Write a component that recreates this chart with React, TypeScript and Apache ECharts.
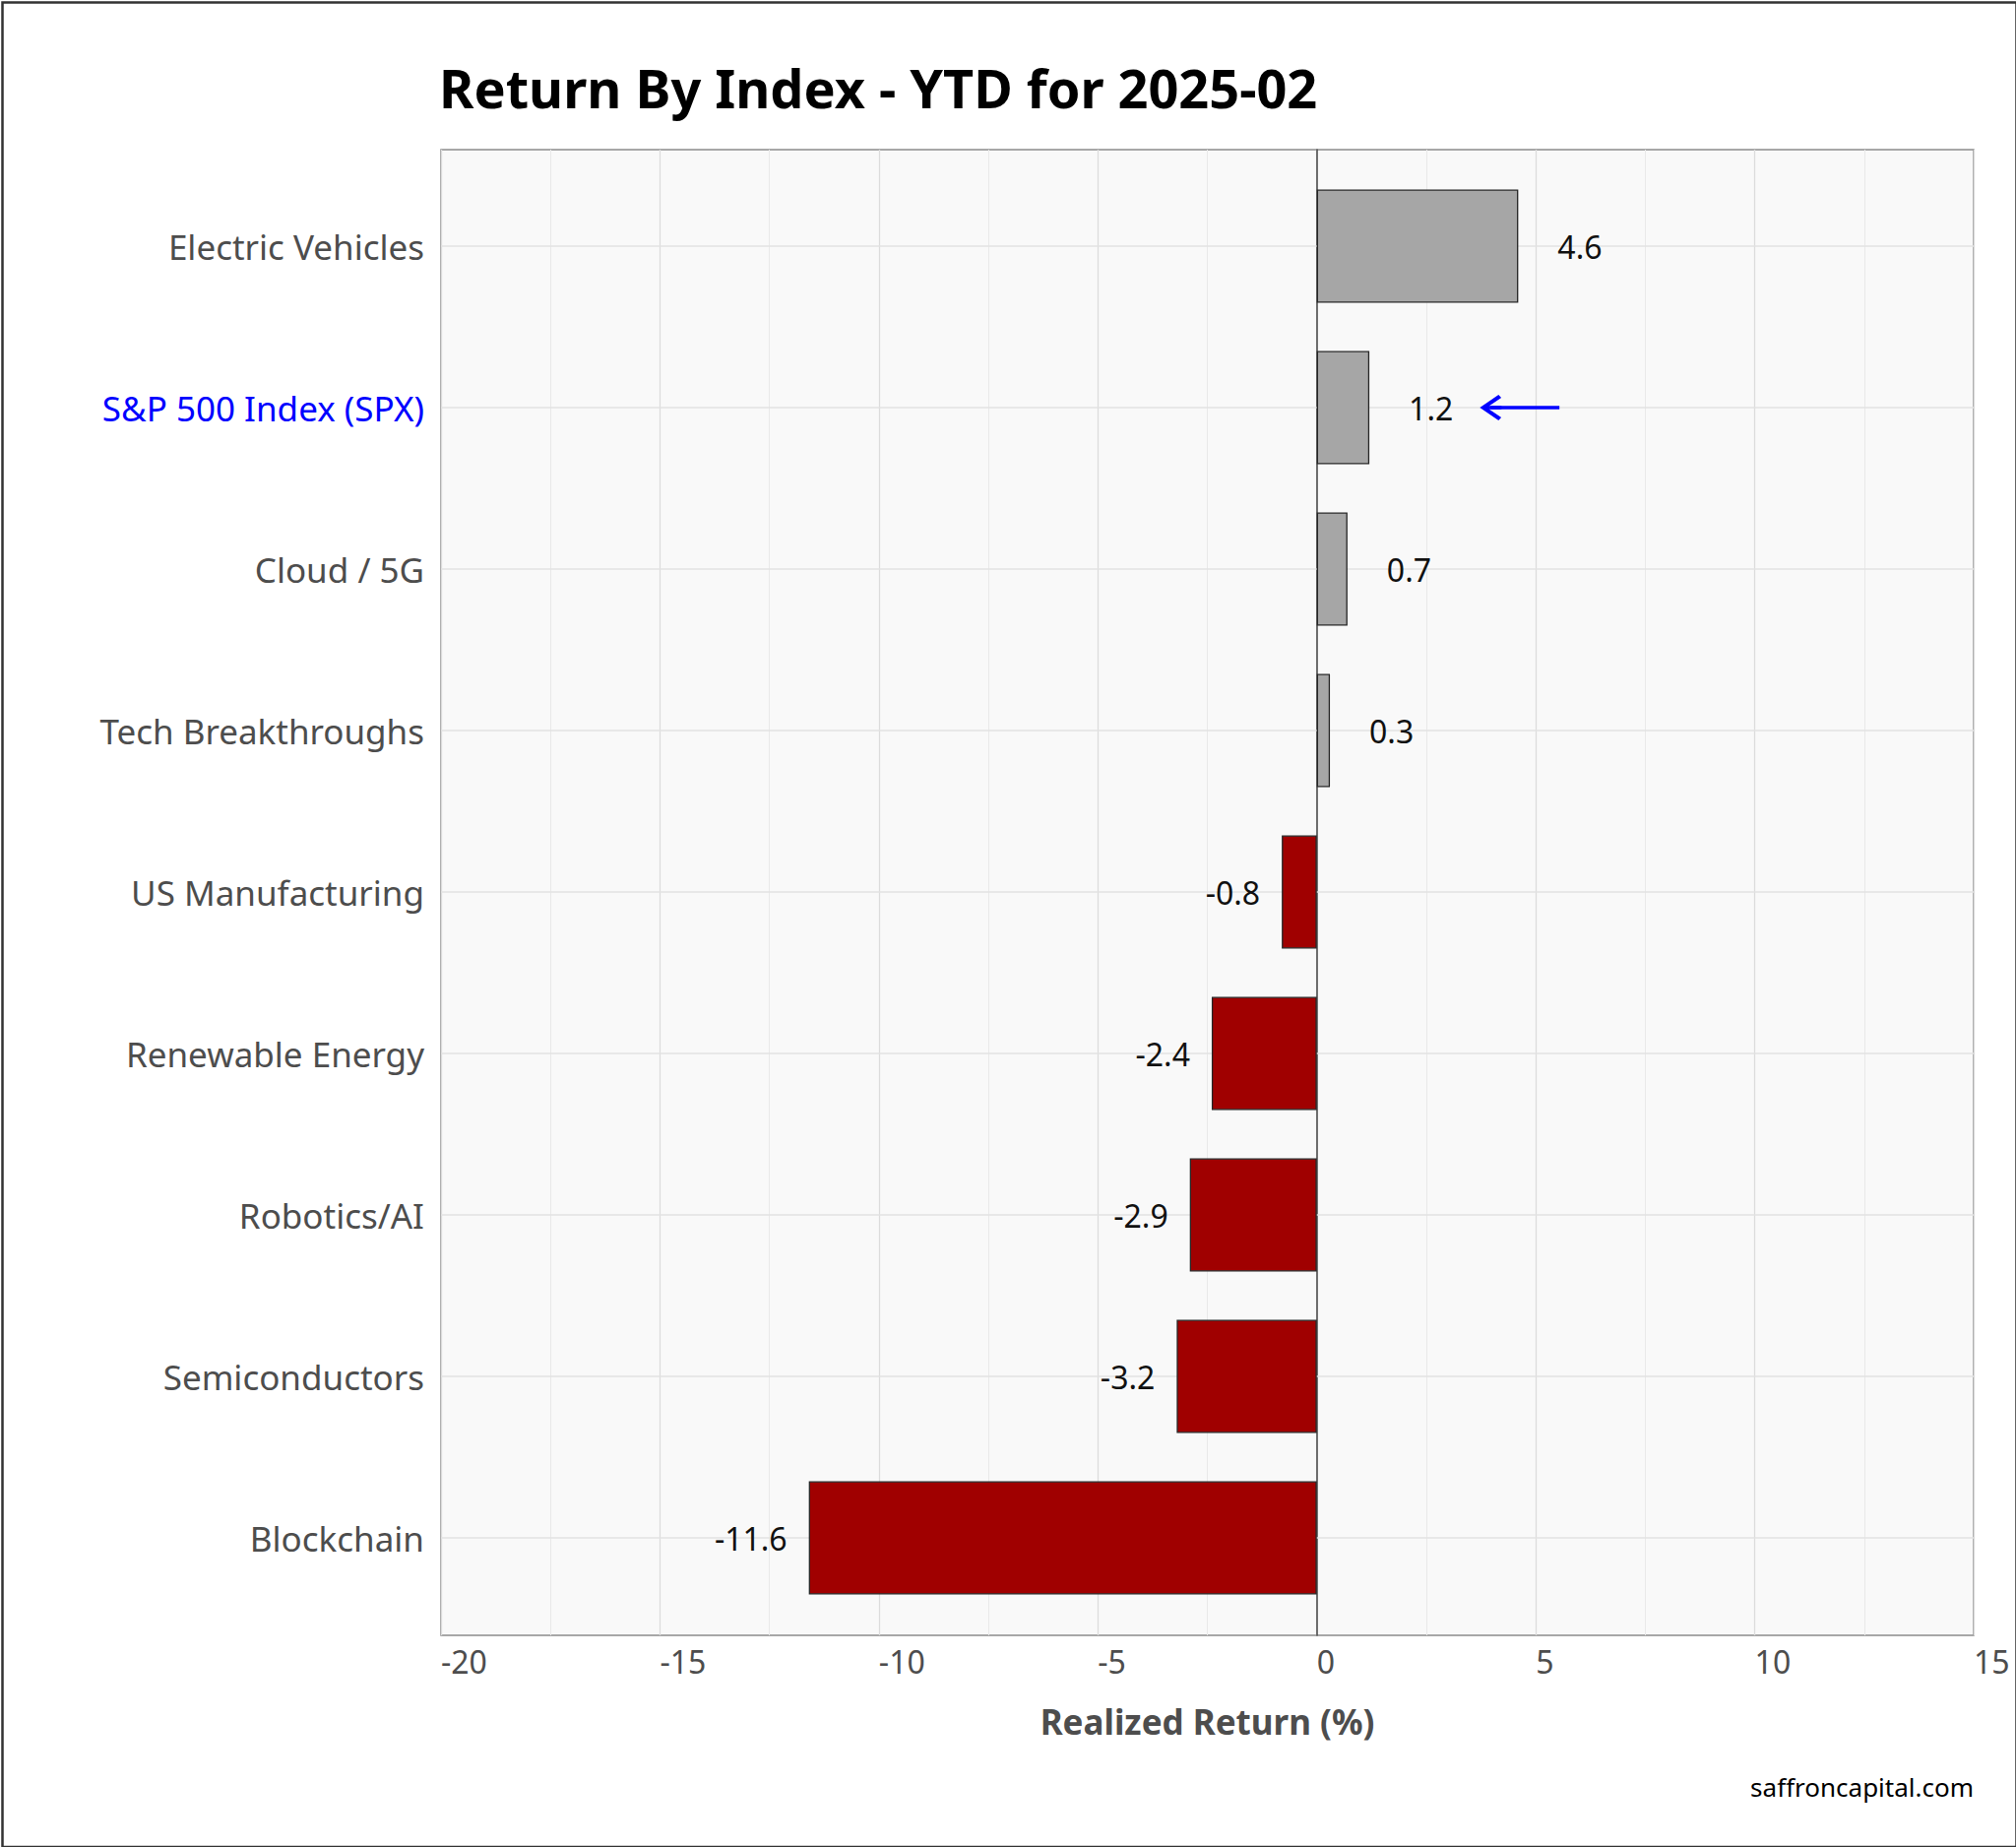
import React, { useEffect, useRef } from "react";
import * as echarts from "echarts";

// Index names, top to bottom, and their year-to-date realized returns (%)
const categories = [
  "Electric Vehicles",
  "S&P 500 Index (SPX)",
  "Cloud / 5G",
  "Tech Breakthroughs",
  "US Manufacturing",
  "Renewable Energy",
  "Robotics/AI",
  "Semiconductors",
  "Blockchain",
];
const returns = [4.6, 1.2, 0.7, 0.3, -0.8, -2.4, -2.9, -3.2, -11.6];

// Return axis range and tick step
const xMin = -20;
const xMax = 15;
const xStep = 5;

// Benchmark row, highlighted in blue with a pointer arrow (x values in %)
const benchmark = "S&P 500 Index (SPX)";
const arrowTail = 5.54;
const arrowHead = 3.97;

const FONT = "Noto Sans";
const POS_COLOR = "#a6a6a6";
const NEG_COLOR = "#a00000";

// Open chevron with a short stem, pointing up; ECharts turns it along the line
const ARROW_SYMBOL =
  "path://M13,0 L26,19 L23,21.8 L13,7 L3,21.8 L0,19 Z M11.2,4 L14.8,4 L14.8,22 L11.2,22 Z";

const PLOT = { left: 448, top: 152, width: 1557, height: 1509 };
const ROW_TOP = 250;
const ROW_BOTTOM = 1562;

function buildOption(): echarts.EChartsOption {
  const barData = returns.map((v) => ({
    value: v,
    itemStyle: { color: v >= 0 ? POS_COLOR : NEG_COLOR },
    label: {
      position: v >= 0 ? "right" : "left",
      distance: v >= 0 ? 40 : 22,
    },
  }));

  const benchmarkIndex = categories.indexOf(benchmark);

  return {
    animation: false,
    backgroundColor: "#ffffff",
    title: {
      text: "Return By Index - YTD for 2025-02",
      left: 446,
      top: 62,
      padding: 0,
      textStyle: {
        fontFamily: FONT,
        fontSize: 54,
        fontWeight: "bold",
        color: "#000000",
      },
    },
    grid: [
      {
        // panel: background, border, vertical grid lines, zero line
        left: PLOT.left,
        top: PLOT.top,
        width: PLOT.width,
        height: PLOT.height,
        show: true,
        backgroundColor: "#f9f9f9",
        borderColor: "#8c8c8c",
        borderWidth: 1.5,
        outerBoundsMode: "none",
      } as any,
      {
        // bars: rows spread between first and last category centres
        left: PLOT.left,
        top: ROW_TOP,
        width: PLOT.width,
        height: ROW_BOTTOM - ROW_TOP,
        show: false,
        outerBoundsMode: "none",
      } as any,
    ],
    xAxis: [
      {
        type: "value",
        gridIndex: 0,
        min: xMin,
        max: xMax,
        interval: xStep,
        axisLine: { show: false },
        axisTick: { show: false },
        axisLabel: {
          fontFamily: FONT,
          fontSize: 32,
          color: "#4d4d4d",
          align: "left",
          margin: 10,
          showMinLabel: true,
          showMaxLabel: true,
        },
        splitLine: { show: true, lineStyle: { color: "#dcdcdc", width: 1.3 } },
        minorTick: { show: false, splitNumber: 2 },
        minorSplitLine: { show: true, lineStyle: { color: "#e9e9e9", width: 1 } },
        name: "Realized Return (%)",
        nameLocation: "middle",
        nameGap: 70,
        nameTextStyle: {
          fontFamily: FONT,
          fontSize: 35,
          fontWeight: "bold",
          color: "#4d4d4d",
        },
      },
      {
        type: "value",
        gridIndex: 1,
        min: xMin,
        max: xMax,
        interval: xStep,
        show: false,
      },
    ],
    yAxis: [
      {
        // carries only the vertical zero line of the panel
        type: "value",
        gridIndex: 0,
        min: 0,
        max: 1,
        axisLine: { show: true, onZero: true, lineStyle: { color: "#444444", width: 1.5 } },
        axisTick: { show: false },
        axisLabel: { show: false },
        splitLine: { show: false },
      },
      {
        type: "category",
        gridIndex: 1,
        data: categories,
        inverse: true,
        boundaryGap: false,
        axisLine: { show: false },
        axisTick: { show: false },
        axisLabel: {
          fontFamily: FONT,
          fontSize: 35,
          margin: 17,
          color: ((value: string) => (value === benchmark ? "#0000ff" : "#4d4d4d")) as any,
        },
        splitLine: { show: true, lineStyle: { color: "#e2e2e2", width: 1.5 } },
        z: 1,
      },
    ],
    series: [
      {
        type: "bar",
        xAxisIndex: 1,
        yAxisIndex: 1,
        data: barData as any,
        barWidth: 115,
        clip: false,
        itemStyle: { borderColor: "#262626", borderWidth: 1.3 },
        label: {
          show: true,
          fontFamily: FONT,
          fontSize: 32,
          color: "#111111",
          formatter: (p: any) => Number(p.value).toFixed(1),
        },
        markLine: {
          silent: true,
          symbol: ["none", ARROW_SYMBOL],
          symbolSize: [10, [26, 22]] as any,
          label: { show: false },
          lineStyle: { color: "#0000ff", width: 3.7, type: "solid", cap: "butt" },
          emphasis: { disabled: true },
          data: [
            [
              { coord: [arrowTail, benchmarkIndex] },
              { coord: [arrowHead, benchmarkIndex], symbol: ARROW_SYMBOL, symbolSize: [26, 22] },
            ] as any,
          ],
        },
      },
    ],
    graphic: [
      {
        type: "text",
        right: 2048 - 2005,
        top: 1802,
        style: {
          text: "saffroncapital.com",
          fontFamily: FONT,
          fontSize: 26,
          fill: "#000000",
        },
      },
      {
        type: "rect",
        left: 0,
        top: 0,
        silent: true,
        shape: { x: 1, y: 1, width: 2046, height: 1873.5 },
        style: { fill: "none", stroke: "#333333", lineWidth: 2.5 },
        z: 100,
      },
    ],
  };
}

export default function App() {
  const ref = useRef<HTMLDivElement>(null);

  useEffect(() => {
    document.body.style.margin = "0";
    const chart = echarts.init(ref.current!, null, { renderer: "svg" });
    chart.setOption(buildOption());
    return () => chart.dispose();
  }, []);

  return <div ref={ref} style={{ width: 2048, height: 1876 }} />;
}
